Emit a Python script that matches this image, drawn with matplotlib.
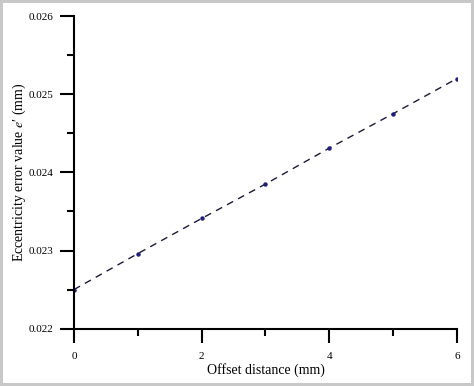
import matplotlib
matplotlib.use("Agg")
import matplotlib.pyplot as plt
from matplotlib.ticker import MultipleLocator

# offset distance (mm) vs eccentricity error e' (mm)
offset = [0, 1, 2, 3, 4, 5, 6]
ecc_err = [0.02250, 0.02296, 0.02341, 0.02385, 0.02431, 0.02475, 0.02520]

plt.rcParams['font.family'] = 'Liberation Serif'
plt.rcParams['mathtext.fontset'] = 'stix'

fig = plt.figure(figsize=(4.74, 3.86), dpi=100)
fig.patch.set_edgecolor('#c8c8c8')
fig.patch.set_linewidth(4)
ax = fig.add_axes([0.156, 0.1485, 0.808, 0.81])

ax.plot(offset, ecc_err, '--', color='#1a1a3a', lw=1.0, dashes=(5, 4),
        marker='o', ms=2.2, mfc='#20207a', mec='#20207a')

ax.set_xlim(0, 6)
ax.set_ylim(0.022, 0.026)
ax.xaxis.set_major_locator(MultipleLocator(2))
ax.xaxis.set_minor_locator(MultipleLocator(1))
ax.yaxis.set_major_locator(MultipleLocator(0.001))
ax.yaxis.set_minor_locator(MultipleLocator(0.0005))
ax.yaxis.set_major_formatter(lambda v, p: f"{v:.3f}")

for s in ['top', 'right']:
    ax.spines[s].set_visible(False)
for s in ['left', 'bottom']:
    ax.spines[s].set_linewidth(1.5)
ax.tick_params(which='major', direction='out', length=10, width=1.5, labelsize=8, pad=5)
ax.tick_params(axis='x', which='major', pad=6.5)
ax.tick_params(which='minor', direction='out', length=5, width=1.5)

ax.set_xlabel('Offset distance (mm)', fontsize=10, labelpad=2)
ax.set_ylabel("Eccentricity error value $e$\u2032 (mm)", fontsize=10)
ax.yaxis.set_label_coords(-0.12, 0.5)

fig.savefig('out.png', dpi=100)
